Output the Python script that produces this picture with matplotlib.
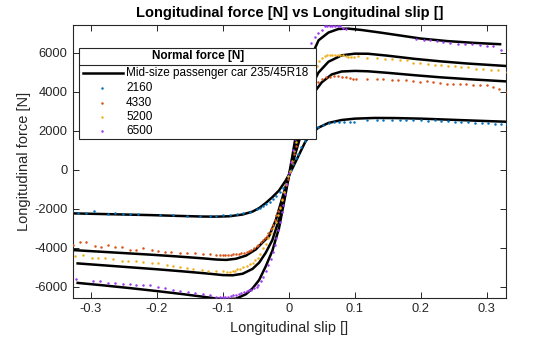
import matplotlib
matplotlib.use('Agg')
import matplotlib.pyplot as plt
from matplotlib.patches import Rectangle

plt.rcParams['font.family'] = ['Liberation Sans', 'DejaVu Sans']
plt.rcParams['axes.unicode_minus'] = False

# ---- fitted curves (black) ----
fit_2160_x = [-0.33, -0.29, -0.25, -0.21, -0.17, -0.13, -0.11, -0.09, -0.07, -0.055,
              -0.045, -0.035, -0.025, -0.015, -0.005, 0.005, 0.015, 0.025, 0.035, 0.045,
              0.06, 0.08, 0.1, 0.13, 0.16, 0.2, 0.24, 0.28, 0.33]
fit_2160_y = [-2230, -2260, -2290, -2320, -2360, -2395, -2400, -2380, -2290, -2140,
              -1960, -1700, -1400, -1060, -560, 50, 750, 1450, 1900, 2170,
              2410, 2560, 2630, 2665, 2660, 2630, 2580, 2530, 2470]

fit_4330_x = [-0.33, -0.29, -0.25, -0.21, -0.17, -0.13, -0.11, -0.095, -0.08, -0.065,
              -0.05, -0.04, -0.03, -0.02, -0.01, 0.0, 0.005, 0.01, 0.02, 0.03,
              0.04, 0.05, 0.065, 0.08, 0.1, 0.12, 0.15, 0.19, 0.23, 0.27, 0.33]
fit_4330_y = [-4110, -4190, -4270, -4350, -4440, -4540, -4600, -4620, -4560, -4400,
              -4080, -3730, -3400, -2600, -1450, -300, 250, 850, 2000, 3000,
              4050, 4500, 4900, 5050, 5080, 5060, 4980, 4860, 4750, 4660, 4540]

fit_5200_x = [-0.32, -0.28, -0.24, -0.2, -0.16, -0.12, -0.1, -0.085, -0.07, -0.055,
              -0.045, -0.035, -0.025, -0.015, -0.005, 0.0, 0.005, 0.015, 0.025, 0.035,
              0.045, 0.06, 0.08, 0.1, 0.12, 0.15, 0.19, 0.23, 0.27, 0.33]
fit_5200_y = [-4800, -4900, -5000, -5100, -5210, -5330, -5400, -5410, -5330, -5080,
              -4760, -4250, -3600, -2550, -1100, -350, 400, 1800, 3200, 4350,
              5000, 5550, 5880, 5965, 5960, 5860, 5700, 5570, 5460, 5330]

fit_6500_x = [-0.32, -0.28, -0.24, -0.2, -0.16, -0.13, -0.11, -0.095, -0.08, -0.065,
              -0.055, -0.045, -0.035, -0.025, -0.015, -0.005, 0.0, 0.005, 0.015, 0.025,
              0.035, 0.045, 0.06, 0.075, 0.09, 0.11, 0.14, 0.17, 0.2, 0.24, 0.28, 0.32]
fit_6500_y = [-5800, -5930, -6070, -6220, -6380, -6510, -6600, -6640, -6610, -6380,
              -6080, -5650, -4950, -4150, -3000, -1250, -300, 650, 2650, 4400,
              5900, 6650, 7050, 7230, 7250, 7180, 7040, 6890, 6740, 6610, 6520, 6450]

# ---- measured data (dots) ----
dat_2160_x = [-0.329, -0.319, -0.307, -0.295, -0.274, -0.264, -0.251, -0.241, -0.228, -0.195,
              -0.175, -0.155, -0.135, -0.12, -0.11, -0.1, -0.089, -0.079, -0.069, -0.059,
              -0.049, -0.044, -0.039, -0.034, -0.029, -0.024, -0.019, -0.014, -0.009, -0.005,
              -0.001, 0.003, 0.007, 0.011, 0.014, 0.019, 0.024, 0.029, 0.034, 0.039,
              0.044, 0.051, 0.061, 0.068, 0.076, 0.084, 0.092, 0.099, 0.118, 0.133,
              0.143, 0.156, 0.168, 0.178, 0.188, 0.2, 0.211, 0.221, 0.231, 0.241,
              0.251, 0.261, 0.272, 0.282, 0.292, 0.302, 0.312, 0.322, 0.33]
dat_2160_y = [-2100, -2200, -2190, -2120, -2240, -2190, -2270, -2240, -2270, -2310,
              -2340, -2360, -2375, -2380, -2350, -2320, -2290, -2240, -2200, -2150,
              -2030, -1960, -1860, -1760, -1640, -1500, -1350, -1160, -950, -700,
              -300, 0, 300, 600, 800, 1150, 1480, 1750, 1950, 2080,
              2200, 2290, 2410, 2460, 2460, 2460, 2460, 2460, 2550, 2550,
              2580, 2580, 2580, 2560, 2550, 2550, 2500, 2550, 2500, 2500,
              2460, 2460, 2460, 2410, 2410, 2410, 2380, 2380, 2380]

dat_4330_x = [-0.327, -0.317, -0.307, -0.294, -0.284, -0.274, -0.264, -0.253, -0.241, -0.231,
              -0.221, -0.208, -0.198, -0.188, -0.178, -0.165, -0.155, -0.142, -0.13, -0.12,
              -0.11, -0.104, -0.1, -0.096, -0.092, -0.088, -0.084, -0.08, -0.076, -0.072,
              -0.068, -0.064, -0.06, -0.057, -0.053, -0.049, -0.046, -0.042, -0.039, -0.036,
              -0.033, -0.031, -0.027, -0.024, -0.021, -0.019, -0.016, -0.014, -0.011, -0.008,
              -0.005, -0.002, 0.002, 0.005, 0.008, 0.011, 0.014, 0.018, 0.022, 0.026,
              0.03, 0.034, 0.038, 0.044, 0.05, 0.056, 0.062, 0.068, 0.074, 0.08,
              0.086, 0.092, 0.097, 0.102, 0.118, 0.133, 0.143, 0.156, 0.166, 0.178,
              0.188, 0.198, 0.209, 0.219, 0.229, 0.239, 0.249, 0.259, 0.269, 0.279,
              0.289, 0.3, 0.309, 0.319, 0.33]
dat_4330_y = [-3830, -3710, -3710, -3910, -3950, -3830, -3950, -3950, -4120, -4120,
              -4030, -4120, -4160, -4200, -4200, -4260, -4260, -4260, -4320, -4320,
              -4370, -4390, -4370, -4390, -4374, -4360, -4340, -4320, -4300, -4287,
              -4240, -4200, -4150, -4118, -4000, -3900, -3861, -3700, -3600, -3520,
              -3380, -3263, -3050, -2836, -2550, -2323, -2100, -1897, -1500, -1150,
              -800, -450, -100, 350, 800, 1250, 1700, 2200, 2700, 3150,
              3550, 3900, 4150, 4513, 4650, 4770, 4790, 4800, 4800, 4790,
              4760, 4720, 4690, 4640, 4687, 4687, 4687, 4636, 4600, 4600,
              4549, 4513, 4549, 4513, 4461, 4431, 4431, 4431, 4431, 4379,
              4379, 4343, 4256, 4150, 4000]

dat_5200_x = [-0.324, -0.312, -0.299, -0.289, -0.279, -0.266, -0.253, -0.243, -0.231, -0.221,
              -0.208, -0.198, -0.185, -0.175, -0.165, -0.155, -0.145, -0.132, -0.122, -0.11,
              -0.1, -0.094, -0.089, -0.085, -0.082, -0.078, -0.074, -0.069, -0.064, -0.059,
              -0.055, -0.051, -0.047, -0.043, -0.039, -0.035, -0.031, -0.027, -0.024, -0.02,
              -0.016, -0.013, -0.01, -0.007, -0.004, -0.001, 0.002, 0.005, 0.008, 0.011,
              0.014, 0.018, 0.022, 0.026, 0.03, 0.034, 0.038, 0.042, 0.046, 0.05,
              0.054, 0.058, 0.062, 0.066, 0.07, 0.074, 0.078, 0.082, 0.086, 0.09,
              0.094, 0.099, 0.105, 0.119, 0.133, 0.145, 0.156, 0.168, 0.179, 0.188,
              0.198, 0.211, 0.221, 0.231, 0.241, 0.251, 0.261, 0.271, 0.284, 0.294,
              0.307, 0.317, 0.33]
dat_5200_y = [-4426, -4374, -4546, -4546, -4546, -4595, -4667, -4683, -4667, -4718,
              -4800, -4800, -4887, -4938, -5005, -5056, -5107, -5143, -5180, -5180,
              -5200, -5250, -5230, -5200, -5170, -5110, -5070, -5000, -4930, -4850,
              -4760, -4640, -4500, -4300, -4031, -3780, -3518, -3250, -3005, -2650,
              -2323, -1950, -1550, -1150, -750, -300, -50, 450, 950, 1450,
              1950, 2600, 3200, 3750, 4250, 4700, 5050, 5350, 5600, 5750,
              5850, 5900, 5917, 5900, 5883, 5900, 5917, 5880, 5850, 5800,
              5800, 5800, 5850, 5763, 5763, 5712, 5712, 5661, 5626, 5507,
              5490, 5456, 5405, 5370, 5319, 5319, 5282, 5282, 5200, 5200,
              5148, 5113, 5025]

dat_6500_x = [-0.322, -0.297, -0.286, -0.274, -0.264, -0.251, -0.241, -0.231, -0.221, -0.211,
              -0.198, -0.188, -0.175, -0.165, -0.153, -0.142, -0.13, -0.12, -0.11, -0.104,
              -0.1, -0.096, -0.092, -0.088, -0.084, -0.08, -0.076, -0.072, -0.068, -0.064,
              -0.06, -0.057, -0.053, -0.049, -0.046, -0.042, -0.039, -0.035, -0.031, -0.027,
              -0.024, -0.021, -0.019, -0.016, -0.014, -0.011, -0.009, -0.006, -0.003, 0.0,
              0.003, 0.006, 0.009, 0.012, 0.015, 0.018, 0.021, 0.024, 0.027, 0.03,
              0.034, 0.039, 0.044, 0.0495, 0.0545, 0.058, 0.062, 0.066, 0.0697, 0.074,
              0.077, 0.082, 0.0864, 0.192, 0.204, 0.214, 0.224, 0.234, 0.244, 0.257,
              0.267, 0.277, 0.289, 0.3, 0.31, 0.321]
dat_6500_y = [-5622, -5690, -5707, -5827, -5827, -5861, -5878, -5913, -5913, -5913,
              -6000, -6083, -6170, -6221, -6256, -6338, -6390, -6426, -6512, -6540,
              -6530, -6520, -6512, -6480, -6440, -6400, -6370, -6338, -6290, -6240,
              -6190, -6169, -6080, -5990, -5913, -5700, -5487, -5200, -4887, -4550,
              -4205, -3850, -3518, -3100, -2667, -2150, -1810, -1250, -700, -150,
              400, 1000, 1600, 2200, 2800, 3450, 4050, 4650, 5250, 5800,
              6500, 6820, 7000, 7200, 7360, 7390, 7390, 7390, 7390, 7380,
              7360, 7300, 7250, 6738, 6687, 6651, 6616, 6564, 6513, 6482,
              6446, 6446, 6395, 6343, 6343, 6174]

loads = ['2160', '4330', '5200', '6500']
colors = ['#0072BD', '#D95319', '#EDB120', '#9B3BEF']
fit_label = 'Mid-size passenger car 235/45R18'
legend_title = 'Normal force [N]'

xticks = [-0.3, -0.2, -0.1, 0, 0.1, 0.2, 0.3]
xtick_labels = ['-0.3', '-0.2', '-0.1', '0', '0.1', '0.2', '0.3']
yticks = [-6000, -4000, -2000, 0, 2000, 4000, 6000]

fits = [(fit_2160_x, fit_2160_y), (fit_4330_x, fit_4330_y),
        (fit_5200_x, fit_5200_y), (fit_6500_x, fit_6500_y)]
dats = [(dat_2160_x, dat_2160_y), (dat_4330_x, dat_4330_y),
        (dat_5200_x, dat_5200_y), (dat_6500_x, dat_6500_y)]

fig = plt.figure(figsize=(5.6, 3.37), dpi=100)
ax = fig.add_axes([0.1304, 0.1166, 0.7732, 0.8083])

for fx, fy in fits:
    ax.plot(fx, fy, color='k', lw=1.8, zorder=2)
for (dx, dy), c in zip(dats, colors):
    ax.plot(dx, dy, linestyle='none', marker='o', markersize=1.8,
            markeredgewidth=0, color=c, zorder=3)

ax.set_xlim(-0.327, 0.329)
ax.set_ylim(-6560, 7420)
ax.set_xticks(xticks)
ax.set_xticklabels(xtick_labels)
ax.set_yticks(yticks)
ax.tick_params(direction='in', top=True, right=True, length=4, width=0.7,
               labelsize=9.3, colors='#262626', pad=4)
for s in ax.spines.values():
    s.set_color('#262626')
    s.set_linewidth(0.8)

ax.set_title('Longitudinal force [N] vs Longitudinal slip []', fontweight='bold',
             fontsize=10.5, pad=6)
ax.set_xlabel('Longitudinal slip []', fontsize=10.5, color='#262626', labelpad=4)
ax.set_ylabel('Longitudinal force [N]', fontsize=10.5, color='#262626', labelpad=2)

# legend box drawn by hand, matlab style (title with separator)
tr = ax.transAxes
ax.add_patch(Rectangle((0.0145, 0.5815), 0.5465, 0.3365, transform=tr,
                       facecolor='white', edgecolor='#262626', lw=0.8, zorder=10))
ax.plot([0.0145, 0.561], [0.854, 0.854], transform=tr, color='#262626',
        lw=0.8, zorder=11)
ax.text(0.289, 0.887, legend_title, transform=tr, ha='center', va='center',
        fontsize=8.5, fontweight='bold', zorder=12)
entry_y = [0.824, 0.769, 0.716, 0.662, 0.612]
ax.plot([0.023, 0.1155], [entry_y[0], entry_y[0]], transform=tr, color='k',
        lw=1.8, zorder=12)
ax.text(0.1224, entry_y[0], fit_label, transform=tr, va='center', fontsize=8.5, zorder=12)
for ey, lab, c in zip(entry_y[1:], loads, colors):
    ax.plot([0.067], [ey], transform=tr, linestyle='none', marker='o',
            markersize=1.8, markeredgewidth=0, color=c, zorder=12)
    ax.text(0.1224, ey, lab, transform=tr, va='center', fontsize=8.5, zorder=12)

fig.savefig('out.png', dpi=100, facecolor='white')
